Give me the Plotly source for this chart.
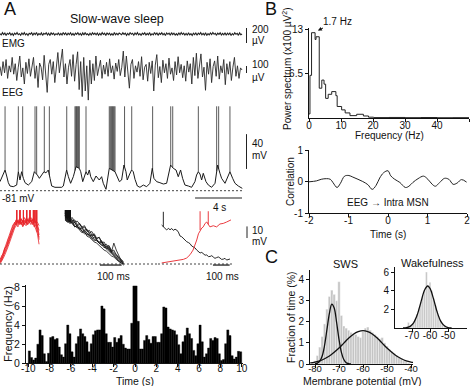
import numpy as np
import plotly.graph_objects as go

W, H = 474, 386
FONT = "Liberation Sans, Arial, sans-serif"

# ---------------- DATA ----------------
# Panel A – EMG (µV), EEG (µV) sampled uniformly over the 20.6 s sweep
emg_uv = [5, -12, 18, -8, 14, -20, 10, -4, 16, -14, 8, -18, 12, -6, 20, -10, 4, -16, 14, -8,
          18, -12, 6, -20, 10, -2, 16, -14, 12, -8, 20, -16, 6, -10, 14, -18, 8, -4, 18, -12,
          10, -20, 16, -6, 12, -14, 4, -10, 18, -16, 8, -12, 20, -6, 14, -18, 10, -8, 16, -14,
          6, -20, 12, -4, 18, -10, 8, -16, 14, -12, 20, -8, 4, -18, 10, -14, 16, -6, 12, -10,
          14, -16, 8, -12, 18, -6, 10, -20, 16, -8, 12, -14, 6, -18, 20, -10, 8, -12, 14, -4,
          -10, 16, -6, 12, -18, 8, -14, 20, -4, 10, -16, 14, -8, 18, -12, 6, -20, 12, -6, 16,
          -14, 8, -10, 18, -16, 4, -12, 20, -8, 14, -18, 10, -6, 16, -12, 8, -20, 14, -4, 12,
          -16, 18, -8, 10, -14, 6, -18, 16, -10, 20, -6, 12, -14, 8, -16, 18, -12, 4, -20, 10,
          -8, 14, -16, 12, -6, 18, -10, 8, -14, 16, -20, 6, -12, 14, -8, 20, -4, 10, -18, 12,
          -6, 16, -14, 8, -10, 18, -16, 12, -8, 14, -20, 6, -12, 16, -4, 10, -18, 14, -10, 0]
eeg_uv = [50, -80, 120, -40, 150, -120, 60, -30, 180, -60, 90,
          -150, 40, 200, -100, 30, -200, 110, -50, 160, -90,
          20, 180, -120, 60, -250, 100, 40, -140, 210, -70,
          -320, 80, 150, -60, 120, -180, 60, 250, -40, 180,
          300, -100, 90, -200, 40, 150, -90, 220, -160, 80,
          260, -280, 120, -380, 180, -300, 60, -430, 140, -200,
          90, -150, 200, -80, 30, 140, -120, 70, -60, 110,
          -90, 160, -40, 60, -130, 100, -20, 150, -80, 40,
          270, -100, 200, -60, -260, 80, 150, -120, 60, -30,
          120, -90, 190, -140, 40, 80, -160, 110, -50, 130,
          -300, 70, 220, -110, 50, -180, 140, -40, 90, -120,
          170, -60, 30, -150, 120, -70, 190, -40, 80, -110,
          60, -160, 130, -30, 90, -200, 180, -80, 240, -120,
          70, 230, -100, 40, -290, 110, -60, 160, -180, 50,
          130, -90, 200, -130, 60, -40, 150, -210, 90, -60,
          120, -150, 40, 180, -90, 60, -120, 30, 0]
SWEEP_S = 20.6

# Intracellular membrane potential (s, mV) and spike times (s)
vm_time = [0.00, 0.23, 0.43, 0.57, 0.71, 0.85, 1.13, 1.42, 1.56, 1.70,
           1.84, 1.99, 2.13, 2.41, 2.70, 2.92, 3.18, 3.35, 3.55, 3.74,
           3.91, 4.11, 4.26, 4.40, 4.68, 4.96, 5.25, 5.39, 5.56, 5.67,
           5.82, 6.01, 6.24, 6.47, 6.75, 6.87, 7.04, 7.23, 7.32, 7.46,
           7.60, 7.72, 7.94, 8.17, 8.45, 8.65, 8.79, 9.02, 9.13, 9.30,
           9.79, 9.99, 10.16, 10.35, 10.55, 10.72, 10.83, 11.00, 11.20, 11.34,
           11.49, 11.69, 11.91, 12.20, 12.48, 12.76, 12.96, 13.10, 13.33, 13.61,
           13.90, 14.18, 14.41, 14.52, 14.75, 14.98, 15.17, 15.37, 15.54, 15.74,
           16.03, 16.31, 16.59, 16.73, 16.88, 17.02, 17.16, 17.30, 17.53, 17.73,
           18.01, 18.30, 18.44, 18.52, 18.72, 18.86, 19.15, 19.43, 19.57, 19.80,
           20.00, 20.28, 20.48, 20.62]
vm_mv = [-70.6, -63.0, -57.2, -64.1, -71.8, -75.6, -76.4, -74.5, -59.2, -68.7,
         -59.2, -66.8, -71.8, -74.5, -70.6, -59.2, -63.0, -66.8, -63.0, -59.2,
         -60.5, -57.2, -66.8, -75.6, -77.1, -77.5, -77.1, -75.6, -63.0, -57.2,
         -64.9, -72.5, -64.9, -53.4, -55.3, -59.2, -70.6, -64.1, -59.2, -63.0,
         -57.2, -64.9, -70.6, -64.1, -68.7, -64.9, -72.5, -79.4, -68.7, -55.3,
         -59.2, -64.9, -70.6, -68.7, -51.5, -59.2, -68.7, -63.0, -57.2, -59.2,
         -67.9, -75.6, -77.1, -74.5, -76.4, -72.5, -55.3, -66.8, -70.6, -71.8,
         -73.3, -72.5, -59.2, -51.5, -55.3, -57.2, -64.9, -57.2, -66.8, -74.5,
         -75.6, -77.1, -70.6, -63.0, -59.2, -61.8, -68.7, -61.0, -70.6, -74.5,
         -77.1, -72.5, -59.2, -51.5, -61.0, -66.8, -72.5, -63.0, -59.2, -66.8,
         -72.5, -75.6, -77.1, -78.3]
spike_times = [0.43, 1.56, 1.93, 2.98, 3.12, 3.77, 4.20, 5.68,
               6.38, 6.45, 6.51, 6.58, 6.64, 6.70, 6.75, 7.32,
               9.30, 9.38, 9.45, 9.51, 9.58, 9.65, 9.72, 9.79,
               10.60, 11.21, 12.99, 14.53, 14.70, 16.88, 18.44, 18.61, 19.57]
SPIKE_PEAK_MV = 16
BASELINE_MV = -81

# Overlaid up-state transitions (ms, mV)
red_trials = [
    [-79, -76, -73, -68, -65, -60, -57, -52, -49, -45, -47, -43, -46, -42, -45, -41, -44, -47, -43, -45, -42, -46, -44, -48, -52],
    [-77, -75, -71, -67, -63, -58, -55, -51, -47, -46, -43, -45, -42, -46, -44, -47, -42, -44, -41, -44, -46, -43, -45, -47, -56],
    [-80, -77, -75, -71, -68, -64, -60, -56, -52, -48, -46, -49, -44, -47, -45, -43, -46, -42, -45, -43, -47, -44, -46, -50, -60],
    [-78, -74, -72, -67, -66, -61, -58, -54, -50, -46, -43, -46, -45, -42, -48, -44, -46, -43, -45, -47, -43, -48, -51, -55, -64],
    [-81, -79, -76, -73, -70, -66, -62, -58, -54, -50, -48, -46, -44, -47, -43, -46, -48, -45, -43, -41, -44, -42, -46, -45, -48],
    [-79, -78, -74, -70, -66, -63, -59, -55, -51, -49, -45, -44, -47, -45, -49, -46, -44, -47, -45, -43, -45, -49, -47, -52, -58],
]
red_trial_dur_ms = 180
red_spike_ms = [77, 92, 108, 123, 138, 154, 161, 169]
black_trials = [
    [-38, -40, -42, -41, -45, -44, -47, -49, -48, -52, -54, -53, -57, -59, -58, -62, -65, -64, -68, -70, -69, -73, -75, -77, -79],
    [-40, -42, -44, -43, -46, -48, -47, -50, -52, -51, -55, -57, -56, -60, -62, -61, -65, -67, -66, -70, -72, -74, -76, -78, -80],
    [-37, -41, -40, -44, -43, -47, -46, -50, -49, -53, -52, -56, -55, -59, -58, -63, -62, -66, -65, -69, -71, -73, -76, -79, -81],
    [-42, -44, -46, -45, -49, -48, -51, -53, -52, -55, -57, -56, -60, -61, -63, -65, -64, -68, -70, -72, -74, -76, -78, -80, -81],
    [-39, -42, -45, -44, -48, -50, -49, -53, -55, -54, -57, -59, -58, -61, -63, -62, -66, -68, -67, -71, -63, -69, -74, -78, -80],
    [-41, -39, -43, -46, -45, -49, -51, -50, -54, -56, -55, -59, -61, -60, -63, -64, -67, -66, -69, -71, -73, -75, -78, -79, -81],
    [-43, -45, -44, -47, -49, -48, -52, -54, -53, -57, -58, -60, -62, -63, -65, -67, -69, -70, -72, -74, -75, -77, -79, -80, -82],
]
black_trial_dur_ms = 270
black_spike_ms = [2, 6, 10, 14, 19, 24]
single_black_ms = [4, 20, 34, 44, 54, 64, 74, 84, 94, 104, 114, 124, 134, 144, 154, 164, 174, 184, 192, 204, 214, 224, 234, 244,
                   254, 264, 274, 284, 294, 304, 313, 323, 333, 343, 353, 363, 373, 383, 393, 403, 413]
single_black_mv = [-47.4, -50, -51.7, -50.2, -51.5, -50.4, -52, -51, -51.7, -53.5, -56.9, -57.5, -59, -60.5, -61.8, -62.5, -63.5,
                   -65.5, -66.3, -67.2, -69, -70.1, -71.5, -71, -72, -73.4, -73.2, -74.6, -74.5, -73.8, -75, -76.1, -75.5,
                   -74.9, -75.8, -77, -76.8, -76.1, -77.6, -77, -76.7]
single_black_spike_ms = [14]
single_red_ms = [4, 30, 54, 84, 114, 134, 154, 174, 192, 204, 214, 224, 234, 244, 253, 264, 274, 293, 313, 333, 353, 373, 393, 419]
single_red_mv = [-80.1, -79.5, -79, -78.5, -77.6, -77, -75.8, -73, -69, -65, -60.3, -55, -51.7, -50, -49, -46, -44.8, -49, -48,
                 -49, -46.5, -46, -44.8, -43]
single_red_spike_ms = [234, 283]

# Spike autocorrelogram (Hz), 0.2 s bins from -10 to 10 s
psth_hz = [1.3, 0.6, 0.35, 0.55, 2.0, 3.5, 2.9, 1.0, 0.2, 1.05,
           2.7, 2.8, 2.5, 2.6, 1.7, 0.9, 0.65, 2.05, 4.0, 3.1,
           1.2, 0.65, 2.05, 2.8, 3.6, 3.1, 2.8, 2.25, 1.2, 2.05,
           3.0, 3.4, 3.5, 3.5, 6.0, 5.7, 3.1, 2.2, 2.2, 1.7,
           2.7, 2.2, 2.6, 2.9, 2.0, 1.6, 1.5, 1.5, 4.2, 8.1,
           8.1, 4.4, 1.5, 1.5, 2.4, 2.9, 2.5, 2.1, 2.8, 2.8,
           2.2, 2.2, 3.1, 5.9, 5.8, 3.8, 3.6, 3.5, 3.4, 3.0,
           1.95, 1.0, 2.25, 2.9, 3.7, 3.1, 2.6, 1.35, 0.8, 2.05,
           4.0, 2.25, 0.65, 1.0, 1.6, 2.6, 2.4, 2.7, 2.6, 1.0,
           0.3, 0.4, 2.05, 3.5, 2.9, 0.8, 0.45, 0.65, 1.25, 1.2]
psth_ticks = [-10, -8, -6, -4, -2, 0, 2, 4, 6, 8, 10]

# Panel B – power spectrum (step edges, Hz / x100 µV²) and correlation
spec_hz = [0, 0.3, 0.8, 1.9, 2.2, 3.2, 4.0, 4.7, 5.2, 6.0, 7.1, 8.4, 8.8, 10.2, 11.3, 12.8, 14.9, 17.0, 18.6, 20.2, 25, 30, 35, 40, 45, 50]
spec_pow = [0.6, 6.3, 12.6, 11.6, 12.0, 4.4, 5.6, 5.0, 2.9, 3.5, 3.9, 3.3, 1.7, 1.2, 0.75, 0.35, 0.55, 0.3, 0.12, 0.06, 0.08, 0.05, 0.07, 0.04, 0.05, 0.05]
corr_t = [-2, -1.81, -1.69, -1.56, -1.46, -1.39, -1.29, -1.21, -1.1, -0.99, -0.89, -0.76, -0.64, -0.51, -0.4, -0.3,
          -0.21, -0.11, 0.0, 0.07, 0.17, 0.3, 0.44, 0.53, 0.63, 0.76, 0.9, 1.01, 1.12, 1.2, 1.31, 1.43, 1.54, 1.65, 1.75, 1.86, 1.99]
corr_r = [-0.01, 0.02, 0.07, 0.09, 0.07, -0.04, -0.19, -0.07, 0.17, 0.19, 0.14, 0.07, 0.0, -0.1, -0.25, -0.12,
          0.11, 0.28, 0.34, 0.18, 0.07, -0.03, -0.19, -0.15, -0.03, 0.09, 0.17, 0.07, -0.09, -0.15, -0.03, 0.1, 0.07, -0.09, -0.05, 0.06, -0.02]

# Panel C – membrane potential distributions (mV, % of time)
sws_mv = [-81, -80, -79, -78, -77, -76, -75, -74, -73, -72, -71, -70, -69, -68, -67, -66, -65, -64, -63, -62, -61,
          -60, -59, -58, -57, -56, -55, -54, -53, -52, -51, -50, -49, -48, -47, -46, -45, -44, -43, -42, -41]
sws_pct = [0.05, 0.15, 0.4, 0.8, 1.3, 1.9, 2.6, 3.2, 3.5, 3.3, 3.0, 3.9, 2.3, 1.8, 1.7, 1.6, 1.5, 1.45, 1.4, 1.3, 1.25,
           1.55, 1.7, 1.75, 1.6, 1.5, 1.4, 1.3, 1.2, 1.25, 1.0, 0.85, 0.7, 0.6, 0.5, 0.4, 0.3, 0.25, 0.15, 0.1, 0.05]
sws_fit1_mv = [-80, -79, -78, -77, -76, -75, -74, -73, -72, -71, -70, -69, -68, -67, -66, -65]
sws_fit1_pct = [0.01, 0.04, 0.14, 0.38, 0.89, 1.65, 2.4, 2.84, 2.65, 1.97, 1.17, 0.55, 0.21, 0.06, 0.02, 0.0]
sws_fit2_mv = [-82, -80, -78, -76, -74, -72, -70, -68, -66, -64, -62, -60, -58, -56, -54, -52, -50, -48, -46, -44, -42, -40, -39]
sws_fit2_pct = [0.05, 0.09, 0.15, 0.25, 0.38, 0.56, 0.76, 0.99, 1.22, 1.41, 1.53, 1.58, 1.53, 1.41, 1.22, 0.99, 0.76, 0.56, 0.38, 0.25, 0.15, 0.09, 0.07]
sws_ticks = [-80, -70, -60, -50, -40]
wake_mv = [-74, -73, -72, -71, -70, -69, -68, -67, -66, -65, -64, -63, -62, -61, -60, -59, -58, -57, -56, -55, -54, -53, -52, -51, -50]
wake_pct = [0.1, 0.15, 0.6, 0.3, 0.4, 0.7, 1.0, 1.5, 2.1, 2.8, 3.4, 4.0, 6.0, 4.6, 4.9, 4.0, 3.2, 2.4, 1.8, 1.2, 0.8, 0.5, 0.3, 0.15, 0.05]
wake_fit_mv = [-75, -73, -71, -69, -67, -65, -63, -61.3, -60, -58, -56, -54, -52, -50, -48]
wake_fit_pct = [0.01, 0.04, 0.17, 0.58, 1.46, 2.8, 4.07, 4.5, 4.25, 3.09, 1.7, 0.71, 0.23, 0.05, 0.01]
wake_ticks = [-70, -60, -50]


# ---------------- LAYOUT HELPERS ----------------
def xdom(p0, p1):
    return [p0 / W, p1 / W]


def ydom(top, bottom):
    return [1 - bottom / H, 1 - top / H]


def xrange_px(p0, p1, pref, vref, ppu):
    return [vref + (p0 - pref) / ppu, vref + (p1 - pref) / ppu]


def yrange_px(top, bottom, pref, vref, ppu):
    return [vref - (bottom - pref) / ppu, vref + (pref - top) / ppu]


def hidden(dom, rng, anchor):
    return dict(domain=dom, range=rng, visible=False, anchor=anchor, fixedrange=True,
                showgrid=False, zeroline=False, automargin=False)


def lbl(v):
    return '%g' % v  # plain ASCII hyphen for negatives, as in the reference


def shown(dom, rng, anchor, tickvals, size=10, standoff=0):
    return dict(domain=dom, range=rng, anchor=anchor, showline=True, linecolor='#111',
                linewidth=1, ticks='outside', ticklen=3, tickwidth=1, tickcolor='#111',
                tickvals=tickvals, ticktext=[lbl(v) for v in tickvals],
                showgrid=False, zeroline=False, fixedrange=True,
                automargin=False, tickangle=0, ticklabelstandoff=standoff,
                tickfont=dict(family=FONT, size=size, color='#111'))


layout = dict(width=W, height=H, margin=dict(l=0, r=0, t=0, b=0, pad=0, autoexpand=False), autosize=False,
              paper_bgcolor='white', plot_bgcolor='rgba(0,0,0,0)', showlegend=False,
              barmode='overlay', font=dict(family=FONT, color='#111'))

PX_PER_S = 11.75
AX_DOM = xdom(0, 250)
AX_RANGE = xrange_px(0, 250, 0, 0, PX_PER_S)
BAR_T = (246.5) / PX_PER_S

# EMG
layout['xaxis'] = hidden(AX_DOM, AX_RANGE, 'y')
layout['yaxis'] = hidden(ydom(20, 50), yrange_px(20, 50, 34, 0, 0.075), 'x')
# EEG
layout['xaxis2'] = hidden(AX_DOM, AX_RANGE, 'y2')
layout['yaxis2'] = hidden(ydom(44, 104), yrange_px(44, 104, 70, 0, 0.07), 'x2')
# intracellular
layout['xaxis3'] = hidden(AX_DOM, AX_RANGE, 'y3')
layout['yaxis3'] = hidden(ydom(100, 202), yrange_px(100, 202, 190.7, BASELINE_MV, 0.87), 'x3')
# overlays
OV_Y = yrange_px(205, 270, 264, BASELINE_MV, 1.16)
layout['yaxis4'] = hidden(ydom(205, 270), OV_Y, 'x4')
layout['xaxis4'] = hidden(xdom(0, 63), xrange_px(0, 63, 0, 0, 0.217), 'y4')
layout['xaxis5'] = hidden(xdom(63, 158), xrange_px(63, 158, 65, 0, 0.217), 'y4')
layout['xaxis6'] = hidden(xdom(158, 250), xrange_px(158, 250, 161, 0, 0.167), 'y4')
# autocorrelogram
layout['xaxis7'] = shown(xdom(26, 243), xrange_px(26, 243, 135, 0, 10.67), 'y7', psth_ticks, 10, -7)
layout['yaxis7'] = shown(ydom(285, 363.3), [0, (363.3 - 285) / 9.55], 'x7', [0, 2, 4, 6, 8], 10.5)
# spectrum
layout['xaxis8'] = shown(xdom(309, 469), [0, 50], 'y8', [0, 10, 20, 30, 40, 50], 10, -5)
layout['yaxis8'] = shown(ydom(28, 118), [0, 90 / 6.77], 'x8', [6.5, 13])
# correlation
layout['xaxis9'] = shown(xdom(309, 467), [-2, 2], 'y9', [-2, -1, 0, 1, 2], 10, -5)
layout['yaxis9'] = shown(ydom(150, 213), [-1, 1], 'x9', [-1, 0, 1])
# SWS histogram
layout['xaxis10'] = shown(xdom(310, 413), xrange_px(310, 413, 315, -80, 2.4), 'y10', sws_ticks, 9.5, -7)
layout['yaxis10'] = shown(ydom(270, 364), [0, 94 / 21.1], 'x10', [0, 1, 2, 3, 4])
# Wake inset
layout['xaxis11'] = shown(xdom(395, 467), xrange_px(395, 467, 412, -70, 1.8), 'y11', wake_ticks, 10, -5)
layout['yaxis11'] = shown(ydom(267, 328), [0, 61 / 9.33], 'x11', [2, 4, 6])

# ---------------- TRACES ----------------
fig = go.Figure()
ln = lambda c, w: dict(color=c, width=w)

emg_t = np.linspace(0, SWEEP_S, len(emg_uv))
fig.add_trace(go.Scatter(x=emg_t, y=emg_uv, mode='lines', line=ln('#222', 1.1), xaxis='x', yaxis='y'))
eeg_t = np.linspace(0, SWEEP_S, len(eeg_uv))
fig.add_trace(go.Scatter(x=eeg_t, y=eeg_uv, mode='lines', line=ln('#2a2a2a', 0.9), xaxis='x2', yaxis='y2'))

# spikes: vertical strokes from the membrane potential up to spike peak
sx, sy = [], []
for t in spike_times:
    base = float(np.interp(t, vm_time, vm_mv))
    sx += [t, t, None]
    sy += [base, SPIKE_PEAK_MV, None]
fig.add_trace(go.Scatter(x=sx, y=sy, mode='lines', line=ln('#484848', 0.9), xaxis='x3', yaxis='y3'))
fig.add_trace(go.Scatter(x=vm_time, y=vm_mv, mode='lines', line=ln('#1a1a1a', 1), xaxis='x3', yaxis='y3'))


def spike_strokes(times, t_arr, v_arr, peak):
    xs, ys = [], []
    for t in times:
        b = float(np.interp(t, t_arr, v_arr))
        xs += [t, t, None]
        ys += [b, peak, None]
    return xs, ys


RED = '#e8262b'
for tr in red_trials:
    tt = np.linspace(0, red_trial_dur_ms, len(tr))
    fig.add_trace(go.Scatter(x=tt, y=tr, mode='lines', line=ln(RED, 0.8), xaxis='x4', yaxis='y4'))
    xs, ys = spike_strokes(red_spike_ms, tt, tr, -34.5)
    fig.add_trace(go.Scatter(x=xs, y=ys, mode='lines', line=ln(RED, 0.7), xaxis='x4', yaxis='y4'))
for tr in black_trials:
    tt = np.linspace(0, black_trial_dur_ms, len(tr))
    fig.add_trace(go.Scatter(x=tt, y=tr, mode='lines', line=ln('#111', 0.8), xaxis='x5', yaxis='y4'))
    xs, ys = spike_strokes(black_spike_ms, tt, tr, -34.5)
    fig.add_trace(go.Scatter(x=xs, y=ys, mode='lines', line=ln('#111', 0.7), xaxis='x5', yaxis='y4'))

fig.add_trace(go.Scatter(x=single_black_ms, y=single_black_mv, mode='lines', line=ln('#111', 0.9), xaxis='x6', yaxis='y4'))
xs, ys = spike_strokes(single_black_spike_ms, single_black_ms, single_black_mv, -36)
fig.add_trace(go.Scatter(x=xs, y=ys, mode='lines', line=ln('#111', 0.9), xaxis='x6', yaxis='y4'))
fig.add_trace(go.Scatter(x=single_red_ms, y=single_red_mv, mode='lines', line=ln(RED, 0.9), xaxis='x6', yaxis='y4'))
xs, ys = spike_strokes(single_red_spike_ms, single_red_ms, single_red_mv, -35.5)
fig.add_trace(go.Scatter(x=xs, y=ys, mode='lines', line=ln(RED, 0.9), xaxis='x6', yaxis='y4'))

# autocorrelogram
psth_t = np.linspace(-9.9, 9.9, len(psth_hz))
fig.add_trace(go.Bar(x=psth_t, y=psth_hz, width=0.2, marker=dict(color='black', line=dict(color='black', width=0.4)),
                     xaxis='x7', yaxis='y7'))

# spectrum
fig.add_trace(go.Scatter(x=spec_hz, y=spec_pow, mode='lines', line=dict(color='#222', width=1, shape='hv'),
                         xaxis='x8', yaxis='y8'))
# correlation
fig.add_trace(go.Scatter(x=corr_t, y=corr_r, mode='lines', line=dict(color='#222', width=1, shape='spline'),
                         xaxis='x9', yaxis='y9'))

# distributions
GRAY = '#c4c4c4'
fig.add_trace(go.Bar(x=sws_mv, y=sws_pct, width=1, marker=dict(color=GRAY, line=dict(color='white', width=0.4)),
                     xaxis='x10', yaxis='y10'))
fig.add_trace(go.Scatter(x=sws_fit1_mv, y=sws_fit1_pct, mode='lines', line=dict(color='#111', width=1.3, shape='spline'),
                         xaxis='x10', yaxis='y10'))
fig.add_trace(go.Scatter(x=sws_fit2_mv, y=sws_fit2_pct, mode='lines', line=dict(color='#111', width=1.3, shape='spline'),
                         xaxis='x10', yaxis='y10'))
fig.add_trace(go.Bar(x=wake_mv, y=wake_pct, width=1, marker=dict(color=GRAY, line=dict(color='white', width=0.4)),
                     xaxis='x11', yaxis='y11'))
fig.add_trace(go.Scatter(x=wake_fit_mv, y=wake_fit_pct, mode='lines', line=dict(color='#111', width=1.3, shape='spline'),
                         xaxis='x11', yaxis='y11'))

# ---------------- SHAPES (scale bars, baselines) ----------------
shapes = []


def seg(xref, yref, x0, x1, y0, y1, w=1, dash=None, color='#222'):
    d = dict(type='line', xref=xref, yref=yref, x0=x0, x1=x1, y0=y0, y1=y1, line=dict(color=color, width=w))
    if dash:
        d['line']['dash'] = dash
    shapes.append(d)


seg('x', 'y', BAR_T, BAR_T, -120, 80, 1)                       # 200 µV
seg('x2', 'y2', BAR_T, BAR_T, -43, 57, 1)                      # 100 µV
seg('x3', 'y3', BAR_T, BAR_T, -56, -16, 1)                     # 40 mV
seg('x3', 'y3', 0, SWEEP_S, BASELINE_MV, BASELINE_MV, 1, '2px,2px', '#444')
seg('x3', 'y3', 16.6, SWEEP_S, -89.4, -89.4, 1.2)               # 4 s
ovx = [('x4', layout['xaxis4']['range'][0], layout['xaxis4']['range'][1]),
       ('x5', layout['xaxis5']['range'][0], layout['xaxis5']['range'][1]),
       ('x6', layout['xaxis6']['range'][0], 425)]
for xr, a, b in ovx:
    seg(xr, 'y4', a, b, BASELINE_MV, BASELINE_MV, 1, '2px,2px', '#444')
seg('x5', 'y4', 161, 261, -81.9, -81.9, 1.3)                   # 100 ms
seg('x6', 'y4', 311, 411, -81.9, -81.9, 1.3)                   # 100 ms
seg('x6', 'y4', 515, 515, -58.6, -48.6, 1)                     # 10 mV
layout['shapes'] = shapes

# ---------------- TEXT ----------------
ann = []


def txt(s, px, py, size=10, xa='center', ya='middle', angle=0):
    ann.append(dict(text=s, x=px / W, y=1 - py / H, xref='paper', yref='paper', showarrow=False,
                    xanchor=xa, yanchor=ya, textangle=angle,
                    font=dict(family=FONT, size=size, color='#111')))


txt('A', 2, 9, 18, 'left')
txt('B', 263, 9, 18, 'left')
txt('C', 263, 257, 18, 'left')
txt('Slow-wave sleep', 117, 19, 12.5)
txt('EMG', 0, 44, 10, 'left')
txt('EEG', 0, 93, 10, 'left')
txt('200', 250, 29, 10, 'left')
txt('µV', 250, 40, 10, 'left')
txt('100', 250, 65, 10, 'left')
txt('µV', 250, 77, 10, 'left')
txt('40', 250, 143, 10, 'left')
txt('mV', 250, 155, 10, 'left')
txt('-81 mV', 0, 198, 10, 'left')
txt('4 s', 219, 207, 10)
txt('10', 250, 230, 10, 'left')
txt('mV', 250, 241, 10, 'left')
txt('100 ms', 113, 276, 10)
txt('100 ms', 222, 276, 10)
txt('Frequency (Hz)', 8, 324, 11, angle=-90)
txt('Time (s)', 135, 380.5, 10.5)
txt('Power spectrum (x100 µV<sup>2</sup>)', 287, 69, 10, angle=-90)
txt('Frequency (Hz)', 389, 135, 10)
txt('Correlation', 290, 182, 10, angle=-90)
txt('Time (s)', 388, 234, 10)
txt('EEG \u2192 Intra MSN', 388, 202, 10)
txt('SWS', 345, 264, 11)
txt('Wakefulness', 432, 263, 11)
txt('Fraction of time (%)', 291, 317, 10.5, angle=-90)
txt('Membrane potential (mV)', 362, 380.5, 10.5)
ann.append(dict(text='1.7 Hz', x=2.5, y=12.85, xref='x8', yref='y8', showarrow=True, ax=20, ay=-10,
                arrowhead=2, arrowsize=0.8, arrowwidth=1, arrowcolor='#111', standoff=1,
                font=dict(family=FONT, size=10, color='#111')))
layout['annotations'] = ann

fig.update_layout(**layout)
fig.write_html("out.html", config={'displayModeBar': False},
               post_script="document.body.style.margin='0';document.body.style.padding='0';document.body.style.overflow='hidden';")
